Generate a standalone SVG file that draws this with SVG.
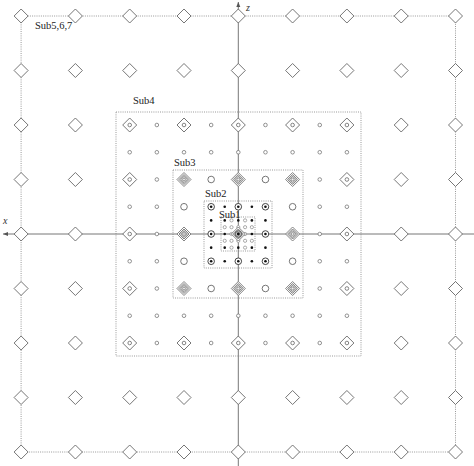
<svg xmlns="http://www.w3.org/2000/svg" width="474" height="466" viewBox="0 0 474 466">
<style>
.box{fill:none;stroke:#999;stroke-width:1;stroke-dasharray:1 1.2}
.axis{fill:none;stroke:#777;stroke-width:1}
.lbl{font-family:"Liberation Serif",serif;font-size:10.5px;fill:#222}
.ax{font-family:"Liberation Serif",serif;font-size:10px;font-style:italic;fill:#333}
</style>
<defs>
<g id="D"><path d="M0-7L7 0L0 7L-7 0Z" fill="#fff" stroke="#666" stroke-width="0.9"/></g>
<g id="D4"><path d="M0-7L7 0L0 7L-7 0Z" fill="#fff" stroke="#666" stroke-width="0.9"/><circle r="1.8" fill="none" stroke="#666" stroke-width="0.8"/></g>
<g id="D3"><path d="M0-7L7 0L0 7L-7 0Z" fill="#fff" stroke="#777" stroke-width="0.9"/><path d="M0-5L5 0L0 5L-5 0Z" fill="#ddd" stroke="#777" stroke-width="0.9"/><path d="M0-3.2L3.2 0L0 3.2L-3.2 0Z" fill="#eee" stroke="#777" stroke-width="0.8"/><circle r="1.4" fill="none" stroke="#777" stroke-width="0.7"/></g>
<g id="R3"><circle r="3.3" fill="#fff" stroke="#666" stroke-width="0.9"/></g>
<g id="r4"><circle r="1.8" fill="#fff" stroke="#777" stroke-width="0.8"/></g>
<g id="B2"><circle r="3.3" fill="#fff" stroke="#333" stroke-width="0.9"/><circle r="1.3" fill="#111"/></g>
<g id="d"><circle r="1.3" fill="#111"/></g>
<g id="r1"><circle r="1.6" fill="#fff" stroke="#888" stroke-width="0.7"/></g>
<marker id="ah" markerWidth="6" markerHeight="6" refX="5" refY="3" orient="auto" markerUnits="userSpaceOnUse"><path d="M0 1L5 3L0 5Z" fill="#555"/></marker>
</defs>

<g id="frames">
<rect class="box" x="21.1" y="16" width="434.4" height="436"/>
<rect class="box" x="116" y="112" width="245" height="244"/>
<rect class="box" x="173" y="170" width="130" height="128"/>
<rect class="box" x="204" y="201" width="68" height="67"/>
<rect class="box" x="221" y="217" width="34" height="34"/>
</g>

<g id="connectors">
<line class="axis" x1="474" y1="234" x2="3" y2="234" marker-end="url(#ah)"/>
<line class="axis" x1="238.3" y1="466" x2="238.3" y2="2" marker-end="url(#ah)"/>
</g>

<g id="axis-labels">
<text class="ax" x="3" y="224">x</text>
<text class="ax" x="246" y="11">z</text>
</g>

<g id="sub567">
<use href="#D" x="21.1" y="16"/><use href="#D" x="75.4" y="16"/><use href="#D" x="129.7" y="16"/><use href="#D" x="184" y="16"/><use href="#D" x="238.3" y="16"/><use href="#D" x="292.6" y="16"/><use href="#D" x="346.9" y="16"/><use href="#D" x="401.2" y="16"/><use href="#D" x="455.5" y="16"/>
<use href="#D" x="21.1" y="70.5"/><use href="#D" x="75.4" y="70.5"/><use href="#D" x="129.7" y="70.5"/><use href="#D" x="184" y="70.5"/><use href="#D" x="238.3" y="70.5"/><use href="#D" x="292.6" y="70.5"/><use href="#D" x="346.9" y="70.5"/><use href="#D" x="401.2" y="70.5"/><use href="#D" x="455.5" y="70.5"/>
<use href="#D" x="21.1" y="125"/><use href="#D" x="75.4" y="125"/><use href="#D" x="401.2" y="125"/><use href="#D" x="455.5" y="125"/>
<use href="#D" x="21.1" y="179.5"/><use href="#D" x="75.4" y="179.5"/><use href="#D" x="401.2" y="179.5"/><use href="#D" x="455.5" y="179.5"/>
<use href="#D" x="21.1" y="234"/><use href="#D" x="75.4" y="234"/><use href="#D" x="401.2" y="234"/><use href="#D" x="455.5" y="234"/>
<use href="#D" x="21.1" y="288.5"/><use href="#D" x="75.4" y="288.5"/><use href="#D" x="401.2" y="288.5"/><use href="#D" x="455.5" y="288.5"/>
<use href="#D" x="21.1" y="343"/><use href="#D" x="75.4" y="343"/><use href="#D" x="401.2" y="343"/><use href="#D" x="455.5" y="343"/>
<use href="#D" x="21.1" y="397.5"/><use href="#D" x="75.4" y="397.5"/><use href="#D" x="129.7" y="397.5"/><use href="#D" x="184" y="397.5"/><use href="#D" x="238.3" y="397.5"/><use href="#D" x="292.6" y="397.5"/><use href="#D" x="346.9" y="397.5"/><use href="#D" x="401.2" y="397.5"/><use href="#D" x="455.5" y="397.5"/>
<use href="#D" x="21.1" y="452"/><use href="#D" x="75.4" y="452"/><use href="#D" x="129.7" y="452"/><use href="#D" x="184" y="452"/><use href="#D" x="238.3" y="452"/><use href="#D" x="292.6" y="452"/><use href="#D" x="346.9" y="452"/><use href="#D" x="401.2" y="452"/><use href="#D" x="455.5" y="452"/>
<text class="lbl" x="35" y="29">Sub5,6,7</text>
</g>

<g id="sub4">
<use href="#D4" x="129.7" y="125"/><use href="#D4" x="184" y="125"/><use href="#D4" x="238.3" y="125"/><use href="#D4" x="292.6" y="125"/><use href="#D4" x="346.9" y="125"/>
<use href="#D4" x="129.7" y="179.5"/><use href="#D4" x="346.9" y="179.5"/>
<use href="#D4" x="129.7" y="234"/><use href="#D4" x="346.9" y="234"/>
<use href="#D4" x="129.7" y="288.5"/><use href="#D4" x="346.9" y="288.5"/>
<use href="#D4" x="129.7" y="343"/><use href="#D4" x="184" y="343"/><use href="#D4" x="238.3" y="343"/><use href="#D4" x="292.6" y="343"/><use href="#D4" x="346.9" y="343"/>
<use href="#r4" x="156.85" y="125"/><use href="#r4" x="211.15" y="125"/><use href="#r4" x="265.45" y="125"/><use href="#r4" x="319.75" y="125"/>
<use href="#r4" x="129.7" y="152.25"/><use href="#r4" x="156.85" y="152.25"/><use href="#r4" x="184" y="152.25"/><use href="#r4" x="211.15" y="152.25"/><use href="#r4" x="238.3" y="152.25"/><use href="#r4" x="265.45" y="152.25"/><use href="#r4" x="292.6" y="152.25"/><use href="#r4" x="319.75" y="152.25"/><use href="#r4" x="346.9" y="152.25"/>
<use href="#r4" x="156.85" y="179.5"/><use href="#r4" x="319.75" y="179.5"/>
<use href="#r4" x="129.7" y="206.75"/><use href="#r4" x="156.85" y="206.75"/><use href="#r4" x="319.75" y="206.75"/><use href="#r4" x="346.9" y="206.75"/>
<use href="#r4" x="156.85" y="234"/><use href="#r4" x="319.75" y="234"/>
<use href="#r4" x="129.7" y="261.25"/><use href="#r4" x="156.85" y="261.25"/><use href="#r4" x="319.75" y="261.25"/><use href="#r4" x="346.9" y="261.25"/>
<use href="#r4" x="156.85" y="288.5"/><use href="#r4" x="319.75" y="288.5"/>
<use href="#r4" x="129.7" y="315.75"/><use href="#r4" x="156.85" y="315.75"/><use href="#r4" x="184" y="315.75"/><use href="#r4" x="211.15" y="315.75"/><use href="#r4" x="238.3" y="315.75"/><use href="#r4" x="265.45" y="315.75"/><use href="#r4" x="292.6" y="315.75"/><use href="#r4" x="319.75" y="315.75"/><use href="#r4" x="346.9" y="315.75"/>
<use href="#r4" x="156.85" y="343"/><use href="#r4" x="211.15" y="343"/><use href="#r4" x="265.45" y="343"/><use href="#r4" x="319.75" y="343"/>
<text class="lbl" x="133" y="104">Sub4</text>
</g>

<g id="sub3">
<use href="#D3" x="184" y="179.5"/><use href="#D3" x="238.3" y="179.5"/><use href="#D3" x="292.6" y="179.5"/>
<use href="#D3" x="184" y="234"/><use href="#D3" x="292.6" y="234"/>
<use href="#D3" x="184" y="288.5"/><use href="#D3" x="238.3" y="288.5"/><use href="#D3" x="292.6" y="288.5"/>
<use href="#R3" x="211.15" y="179.5"/><use href="#R3" x="265.45" y="179.5"/>
<use href="#R3" x="184" y="206.75"/><use href="#R3" x="292.6" y="206.75"/>
<use href="#R3" x="184" y="261.25"/><use href="#R3" x="292.6" y="261.25"/>
<use href="#R3" x="211.15" y="288.5"/><use href="#R3" x="265.45" y="288.5"/>
<text class="lbl" x="174" y="166">Sub3</text>
</g>

<g id="sub2">
<use href="#B2" x="211.15" y="206.75"/><use href="#B2" x="238.3" y="206.75"/><use href="#B2" x="265.45" y="206.75"/>
<use href="#B2" x="211.15" y="234"/><use href="#B2" x="265.45" y="234"/>
<use href="#B2" x="211.15" y="261.25"/><use href="#B2" x="238.3" y="261.25"/><use href="#B2" x="265.45" y="261.25"/>
<use href="#d" x="224.725" y="206.75"/><use href="#d" x="251.875" y="206.75"/>
<use href="#d" x="211.15" y="220.375"/><use href="#d" x="224.725" y="220.375"/><use href="#d" x="238.3" y="220.375"/><use href="#d" x="251.875" y="220.375"/><use href="#d" x="265.45" y="220.375"/>
<use href="#d" x="224.725" y="234"/><use href="#d" x="251.875" y="234"/>
<use href="#d" x="211.15" y="247.625"/><use href="#d" x="224.725" y="247.625"/><use href="#d" x="238.3" y="247.625"/><use href="#d" x="251.875" y="247.625"/><use href="#d" x="265.45" y="247.625"/>
<use href="#d" x="224.725" y="261.25"/><use href="#d" x="251.875" y="261.25"/>
<text class="lbl" x="205" y="197">Sub2</text>
</g>

<g id="sub1">
<use href="#r1" x="231.51" y="220.375"/><use href="#r1" x="245.09" y="220.375"/>
<use href="#r1" x="224.725" y="227.19"/><use href="#r1" x="231.51" y="227.19"/><use href="#r1" x="238.3" y="227.19"/><use href="#r1" x="245.09" y="227.19"/><use href="#r1" x="251.875" y="227.19"/>
<use href="#r1" x="231.51" y="234"/><use href="#r1" x="245.09" y="234"/>
<use href="#r1" x="224.725" y="240.81"/><use href="#r1" x="231.51" y="240.81"/><use href="#r1" x="238.3" y="240.81"/><use href="#r1" x="245.09" y="240.81"/><use href="#r1" x="251.875" y="240.81"/>
<use href="#r1" x="231.51" y="247.625"/><use href="#r1" x="245.09" y="247.625"/>
<text class="lbl" x="219" y="218">Sub1</text>
</g>

<g id="center">
<use href="#D3" x="238.3" y="234"/>
<circle cx="238.3" cy="234" r="3.3" fill="none" stroke="#555" stroke-width="0.8"/>
<circle cx="238.3" cy="234" r="1.4" fill="#111"/>
</g>
</svg>
